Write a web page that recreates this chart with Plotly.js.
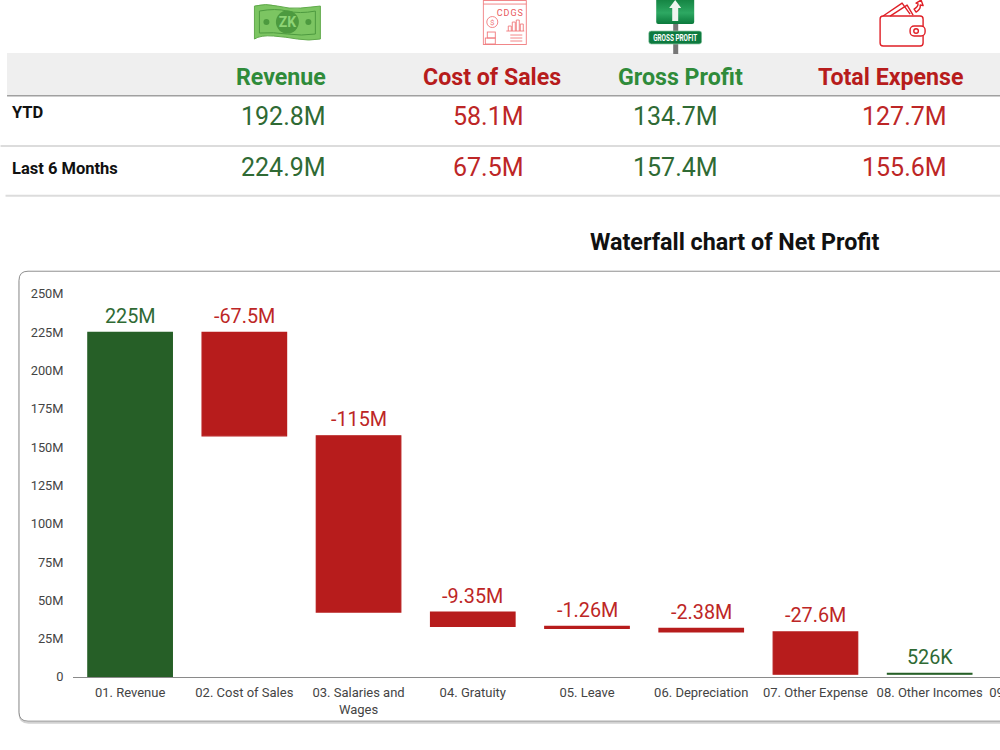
<!DOCTYPE html>
<html><head><meta charset="utf-8">
<script src="https://cdn.plot.ly/plotly-3.0.1.min.js"></script>
<style>html,body{margin:0;padding:0;width:1000px;height:750px;overflow:hidden;background:#fff}</style>
</head><body><div id="chart" style="width:1200px;height:750px"></div>
<script>
// ---- data ----
const categories = ["01. Revenue","02. Cost of Sales","03. Salaries and<br>Wages","04. Gratuity","05. Leave","06. Depreciation","07. Other Expense","08. Other Incomes","09. Net Profit/Loss"];
const deltas = [224.9,-67.5,-115,-9.35,-1.26,-2.38,-27.6,0.526,2.34];
const measures = ["absolute","relative","relative","relative","relative","relative","relative","relative","total"];
const valueLabels = ["225M","-67.5M","-115M","-9.35M","-1.26M","-2.38M","-27.6M","526K","2.34M"];
const yTicks = [0,25,50,75,100,125,150,175,200,225,250];
const yTickLabels = ["0","25M","50M","75M","100M","125M","150M","175M","200M","225M","250M"];
const kpiHeaders = ["Revenue","Cost of Sales","Gross Profit","Total Expense"];
const rowNames = ["YTD","Last 6 Months"];
const ytdValues = ["192.8M","58.1M","134.7M","127.7M"];
const last6Values = ["224.9M","67.5M","157.4M","155.6M"];
const chartTitle = "Waterfall chart of Net Profit";

// ---- styles / layout ----
const W=1200,H=750, GREEN="#265f27", RED="#b71c1c", HGREEN="#2f8b3a", LGREEN="#2f6a34", LRED="#bd2626", FONT="Roboto, Arial, sans-serif";
const L=72.5,R=1101,T=285.5,B=677;
const headerCx=[281,491.5,680.5,890.5], valueCx=[283.5,488.5,675,904], kpiColors=[0,1,0,1];
const fx=p=>(p-L)/(R-L), fy=p=>(B+0.8-p)/(B-T);
const txt=(t,x,y,size,color,bold,anchor)=>({xref:"paper",yref:"paper",x:fx(x),y:fy(y),xanchor:anchor||"center",yanchor:"middle",showarrow:false,
  text:bold?"<b>"+t+"</b>":t,font:{family:FONT,size:size,color:color}});
const rect=(x0,y0,x1,y1,fill)=>({type:"rect",xref:"paper",yref:"paper",layer:"below",x0:fx(x0),x1:fx(x1),y0:fy(y0),y1:fy(y1),fillcolor:fill,line:{width:0}});
const card=(x0,y0,x1,y1,r,color,w)=>({type:"path",xref:"paper",yref:"paper",layer:"below",fillcolor:"#fff",line:{color:color,width:w},
  path:`M ${fx(x1)} ${fy(y0)} L ${fx(x0+r)} ${fy(y0)} Q ${fx(x0)} ${fy(y0)} ${fx(x0)} ${fy(y0+r)} L ${fx(x0)} ${fy(y1-r)} Q ${fx(x0)} ${fy(y1)} ${fx(x0+r)} ${fy(y1)} L ${fx(x1)} ${fy(y1)}`});

const annotations=[];
kpiHeaders.forEach((t,i)=>annotations.push(txt(t,headerCx[i],77,23.2,kpiColors[i]?RED:HGREEN,true)));
[ytdValues,last6Values].forEach((vals,r)=>vals.forEach((t,i)=>annotations.push(txt(t,valueCx[i],[116.5,168][r],25,kpiColors[i]?LRED:LGREEN,false))));
rowNames.forEach((t,r)=>annotations.push(txt(t,9,[113,169][r],16.5,"#111",true,"left")));
annotations.push(txt(chartTitle,734.5,242,23.3,"#111",true));

// running tops for the labels come from the deltas
let run=0; const tops=deltas.map((d,i)=>{ if(measures[i]==="total")return run; const prev=run; run+=d; return Math.max(prev,run); });
categories.forEach((c,i)=>annotations.push({xref:"x",yref:"y",x:c,y:tops[i],yanchor:"bottom",yshift:2.5,showarrow:false,text:valueLabels[i],
  font:{family:FONT,size:19.8,color:deltas[i]<0?LRED:LGREEN}}));

const shapes=[
  card(19,273,1210,723.5,9,"#d2d2d2",2),
  card(18.5,271.5,1210,722,9,"#8f8f8f",1),
  rect(6.5,53,1210,95,"#efefef"),
  rect(6.5,95,1210,96.5,"#a0a0a0"),
  rect(0,145,1210,147,"#dcdcdc"),
  rect(5,195,1210,197,"#dcdcdc")
];

const svgUri=s=>"data:image/svg+xml;charset=utf-8,"+encodeURIComponent(s);
const moneyIcon=svgUri(`<svg xmlns="http://www.w3.org/2000/svg" viewBox="0 0 68 38"><path d="M1 3 Q12 0 24 3 T47 5 T67 3 V36 Q55 38 44 36 T20 33 T1 36Z" fill="#7cc562" stroke="#5fa94a"/><path d="M6 8 Q22 5 34 8 T62 8 V31 Q48 33 34 31 T6 30Z" fill="none" stroke="#4d9a3f" stroke-width="1"/><circle cx="34" cy="19" r="11.5" fill="#4d9a3f"/><text x="34" y="24" font-family="Roboto" font-size="14" font-weight="bold" fill="#8ed476" text-anchor="middle">ZK</text><circle cx="13" cy="19" r="3" fill="#4d9a3f"/><circle cx="55" cy="19" r="3" fill="#4d9a3f"/></svg>`);
const cogsIcon=svgUri(`<svg xmlns="http://www.w3.org/2000/svg" viewBox="0 0 45 46" fill="none" stroke="#f0797c" stroke-width="0.9"><rect x="1" y="0.5" width="43" height="44"/><line x1="1" y1="4" x2="44" y2="4"/><text x="28" y="16" font-family="Roboto" font-size="9" letter-spacing="1" fill="#e8575b" stroke="none" text-anchor="middle">CDGS</text><circle cx="10" cy="22" r="5.5"/><text x="10" y="25" font-family="Roboto" font-size="8" fill="#f0797c" stroke="none" text-anchor="middle">$</text><rect x="5" y="32" width="8" height="6"/><rect x="3" y="38" width="10" height="6"/><path d="M26 31V26H29V31M30 31V22H33V31M34 31V20H37V31M38 31V24H41V31M24 31H42"/><path d="M28 35H40M28 38H40M28 41H40"/></svg>`);
const signIcon=svgUri(`<svg xmlns="http://www.w3.org/2000/svg" viewBox="0 0 54 54"><defs><linearGradient id="g" x1="0" y1="0" x2="0" y2="1"><stop offset="0" stop-color="#0e7a3a"/><stop offset="0.6" stop-color="#2da862"/><stop offset="1" stop-color="#0b7a3c"/></linearGradient></defs><rect x="25" y="22" width="5" height="32" fill="#777"/><rect x="8" y="-4" width="38" height="28" rx="2" fill="url(#g)"/><path d="M27 0 L33 8 H30 V21 H24 V8 H21Z" fill="#eef5ee"/><rect x="0.5" y="31" width="53" height="13" rx="2.5" fill="#0d7a3f" stroke="#8fc8a5" stroke-width="0.7"/><text x="27" y="41" font-family="Roboto" font-size="8.5" font-weight="bold" fill="#fff" text-anchor="middle" textLength="44" lengthAdjust="spacingAndGlyphs">GROSS PROFIT</text></svg>`);
const walletIcon=svgUri(`<svg xmlns="http://www.w3.org/2000/svg" viewBox="0 0 47 47" fill="none" stroke="#df1f26" stroke-width="1.4" stroke-linejoin="round"><rect x="1" y="16" width="43" height="30" rx="3"/><rect x="31" y="26" width="15" height="10" rx="4" fill="#fff"/><circle cx="37" cy="31" r="2.3"/><path d="M4 16 L23 3 L31 14 M11 16 L28 5 L34 15"/><path d="M37 12 Q42 9 41 5 L44 5.5 L42 0 L37 3 L39 3.8 Q39 7 35 9Z"/></svg>`);
const icon=(src,x0,y0,x1,y1)=>({source:src,xref:"paper",yref:"paper",x:fx(x0),y:fy(y0),sizex:(x1-x0)/(R-L),sizey:(y1-y0)/(B-T),sizing:"stretch",xanchor:"left",yanchor:"top",layer:"above"});

const barLine=c=>({color:c,line:{color:c,width:1.2}});
const trace={type:"waterfall",x:categories,y:deltas,measure:measures,orientation:"v",
  connector:{visible:false},
  increasing:{marker:barLine(GREEN)},decreasing:{marker:barLine(RED)},totals:{marker:barLine(GREEN)},
  textposition:"none",hoverinfo:"x+y"};

const layout={width:W,height:H,paper_bgcolor:"rgba(0,0,0,0)",plot_bgcolor:"rgba(0,0,0,0)",showlegend:false,
  margin:{l:L,r:W-R,t:T,b:H-B,autoexpand:false},
  font:{family:FONT},waterfallgap:0.26,
  xaxis:{type:"category",categoryorder:"array",categoryarray:categories,range:[-0.5,8.5],showgrid:false,zeroline:false,showline:true,linecolor:"#8a8a8a",linewidth:1,
    ticks:"outside",ticklen:3,tickcolor:"rgba(0,0,0,0)",
    tickangle:0,tickfont:{family:FONT,size:13,color:"#444"},automargin:false},
  yaxis:{range:[0,255.2],tickmode:"array",tickvals:yTicks,ticktext:yTickLabels,showgrid:false,zeroline:false,showline:false,
    ticks:"outside",ticklen:6,tickcolor:"rgba(0,0,0,0)",
    tickfont:{family:FONT,size:12.8,color:"#444"},automargin:false},
  annotations:annotations,shapes:shapes,
  images:[icon(moneyIcon,253,3,321,41),icon(cogsIcon,482,0,527,46),icon(signIcon,648,0,702,54),icon(walletIcon,879,0,926,47)]
};
Plotly.newPlot("chart",[trace],layout,{displayModeBar:false,responsive:false});
</script></body></html>
